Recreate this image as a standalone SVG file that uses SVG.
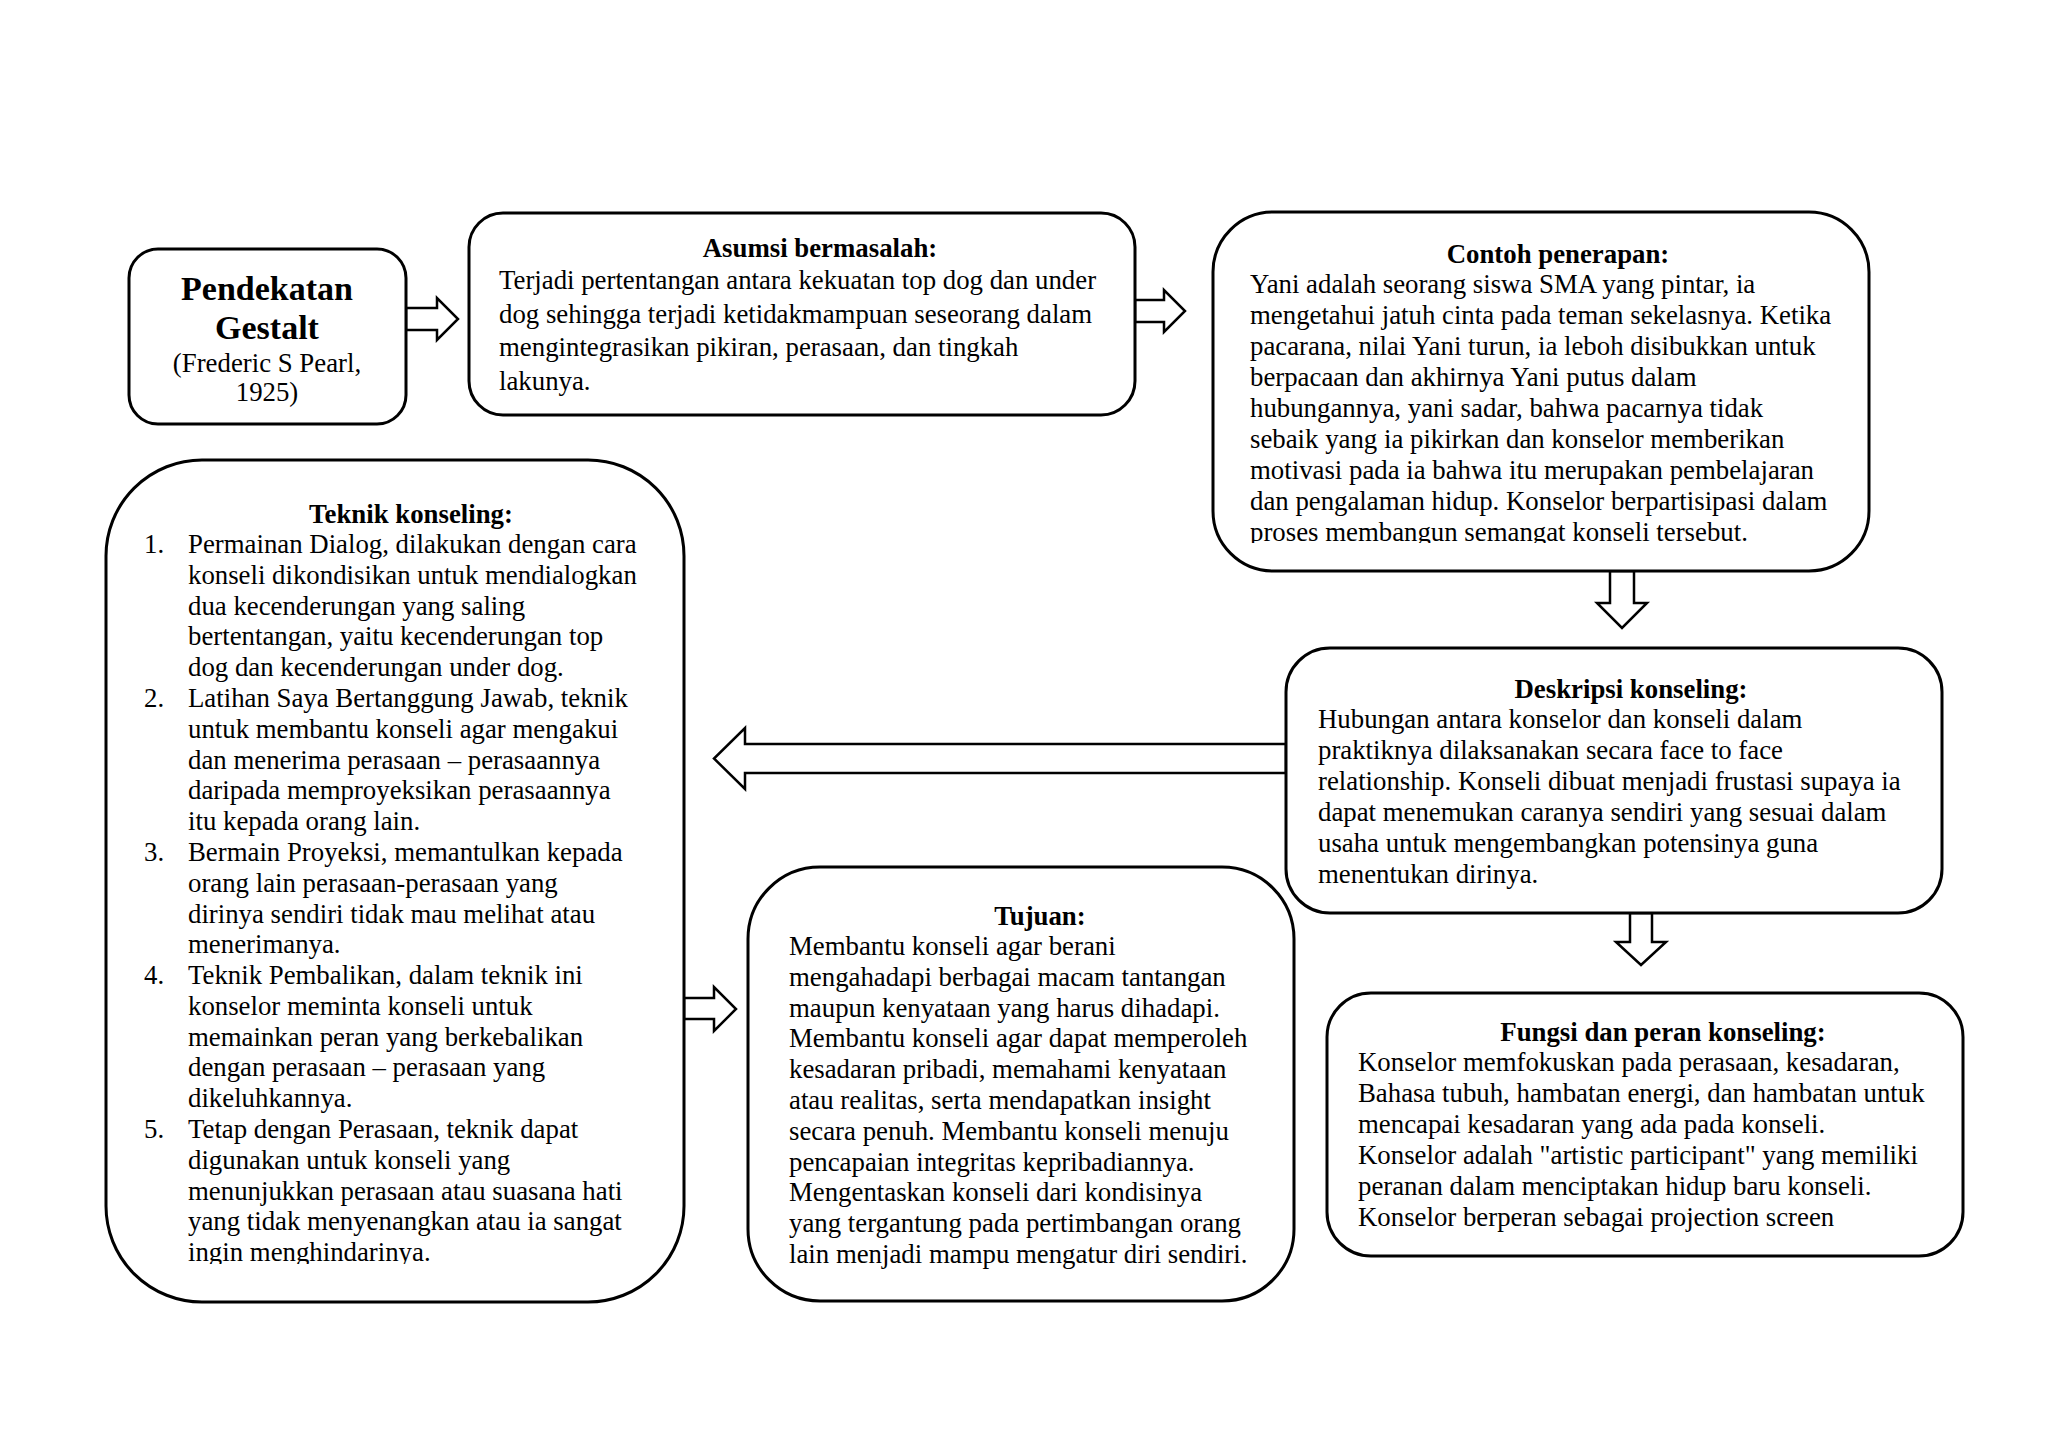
<svg xmlns="http://www.w3.org/2000/svg" width="2048" height="1449" viewBox="0 0 2048 1449">
<style>
.box{fill:#fff;stroke:#000;stroke-width:3}
.arr{fill:#fff;stroke:#000;stroke-width:2.5;stroke-linejoin:miter}
.t{font-family:"Liberation Serif","Times New Roman",serif;font-size:26.8px;fill:#000}
.h{font-weight:bold;text-anchor:middle}
.big{font-size:34px;font-weight:bold;text-anchor:middle}
.c{text-anchor:middle}
</style>
<defs>
<clipPath id="clipContoh"><rect x="1213" y="212" width="656" height="331"/></clipPath>
<clipPath id="clipTeknik"><rect x="106" y="460" width="578" height="804"/></clipPath>
</defs>
<rect width="2048" height="1449" fill="#fff"/>
<g id="connectors">
<path class="arr" d="M406,308 H437 V298 L458,319 L437,340 V330 H406 Z"/>
<path class="arr" d="M1135,300 H1164 V290 L1185,311 L1164,332 V322 H1135 Z"/>
<path class="arr" d="M1610,571 V603 H1597 L1622,628 L1647,603 H1634 V571 Z"/>
<path class="arr" d="M1286,744 H745 V728 L714,758.5 L745,789 V773 H1286 Z"/>
<path class="arr" d="M684,998 H714 V987 L736,1009 L714,1031 V1019 H684 Z"/>
<path class="arr" d="M1630,913 V942 H1616 L1641,965 L1666,942 H1652 V913 Z"/>
</g>
<g id="pendekatan">
<rect class="box" x="129" y="249" width="277" height="175" rx="29"/>
<text class="t big" x="267" y="300">Pendekatan</text>
<text class="t big" x="267" y="339">Gestalt</text>
<text class="t c" x="267" y="372">(Frederic S Pearl,</text>
<text class="t c" x="267" y="401">1925)</text>
</g>
<g id="asumsi">
<rect class="box" x="469" y="213" width="666" height="202" rx="34"/>
<text class="t h" x="820" y="257">Asumsi bermasalah:</text>
<text class="t"><tspan x="499" y="289">Terjadi pertentangan antara kekuatan top dog dan under</tspan><tspan x="499" y="322.5">dog sehingga terjadi ketidakmampuan seseorang dalam</tspan><tspan x="499" y="356">mengintegrasikan pikiran, perasaan, dan tingkah</tspan><tspan x="499" y="389.5">lakunya.</tspan></text>
</g>
<g id="contoh">
<rect class="box" x="1213" y="212" width="656" height="359" rx="60"/>
<text class="t h" x="1558" y="263">Contoh penerapan:</text>
<text class="t" clip-path="url(#clipContoh)"><tspan x="1250" y="293">Yani adalah seorang siswa SMA yang pintar, ia</tspan><tspan x="1250" y="324">mengetahui jatuh cinta pada teman sekelasnya. Ketika</tspan><tspan x="1250" y="355">pacarana, nilai Yani turun, ia leboh disibukkan untuk</tspan><tspan x="1250" y="386">berpacaan dan akhirnya Yani putus dalam</tspan><tspan x="1250" y="417">hubungannya, yani sadar, bahwa pacarnya tidak</tspan><tspan x="1250" y="448">sebaik yang ia pikirkan dan konselor memberikan</tspan><tspan x="1250" y="479">motivasi pada ia bahwa itu merupakan pembelajaran</tspan><tspan x="1250" y="510">dan pengalaman hidup. Konselor berpartisipasi dalam</tspan><tspan x="1250" y="541">proses membangun semangat konseli tersebut.</tspan></text>
</g>
<g id="deskripsi">
<rect class="box" x="1286" y="648" width="656" height="265" rx="44"/>
<text class="t h" x="1631" y="698">Deskripsi konseling:</text>
<text class="t"><tspan x="1318" y="728">Hubungan antara konselor dan konseli dalam</tspan><tspan x="1318" y="759">praktiknya dilaksanakan secara face to face</tspan><tspan x="1318" y="790">relationship. Konseli dibuat menjadi frustasi supaya ia</tspan><tspan x="1318" y="821">dapat menemukan caranya sendiri yang sesuai dalam</tspan><tspan x="1318" y="852">usaha untuk mengembangkan potensinya guna</tspan><tspan x="1318" y="883">menentukan dirinya.</tspan></text>
</g>
<g id="teknik">
<rect class="box" x="106" y="460" width="578" height="842" rx="96"/>
<text class="t h" x="411" y="523">Teknik konseling:</text>
<g clip-path="url(#clipTeknik)">
<text class="t"><tspan x="144" y="553">1.</tspan><tspan x="144" y="707">2.</tspan><tspan x="144" y="861">3.</tspan><tspan x="144" y="984">4.</tspan><tspan x="144" y="1138">5.</tspan></text>
<text class="t"><tspan x="188" y="553">Permainan Dialog, dilakukan dengan cara</tspan><tspan x="188" y="584">konseli dikondisikan untuk mendialogkan</tspan><tspan x="188" y="615">dua kecenderungan yang saling</tspan><tspan x="188" y="645">bertentangan, yaitu kecenderungan top</tspan><tspan x="188" y="676">dog dan kecenderungan under dog.</tspan><tspan x="188" y="707">Latihan Saya Bertanggung Jawab, teknik</tspan><tspan x="188" y="738">untuk membantu konseli agar mengakui</tspan><tspan x="188" y="769">dan menerima perasaan – perasaannya</tspan><tspan x="188" y="799">daripada memproyeksikan perasaannya</tspan><tspan x="188" y="830">itu kepada orang lain.</tspan><tspan x="188" y="861">Bermain Proyeksi, memantulkan kepada</tspan><tspan x="188" y="892">orang lain perasaan-perasaan yang</tspan><tspan x="188" y="923">dirinya sendiri tidak mau melihat atau</tspan><tspan x="188" y="953">menerimanya.</tspan><tspan x="188" y="984">Teknik Pembalikan, dalam teknik ini</tspan><tspan x="188" y="1015">konselor meminta konseli untuk</tspan><tspan x="188" y="1046">memainkan peran yang berkebalikan</tspan><tspan x="188" y="1076">dengan perasaan – perasaan yang</tspan><tspan x="188" y="1107">dikeluhkannya.</tspan><tspan x="188" y="1138">Tetap dengan Perasaan, teknik dapat</tspan><tspan x="188" y="1169">digunakan untuk konseli yang</tspan><tspan x="188" y="1200">menunjukkan perasaan atau suasana hati</tspan><tspan x="188" y="1230">yang tidak menyenangkan atau ia sangat</tspan><tspan x="188" y="1261">ingin menghindarinya.</tspan></text>
</g>
</g>
<g id="tujuan">
<rect class="box" x="748" y="867" width="546" height="434" rx="72"/>
<text class="t h" x="1040" y="925">Tujuan:</text>
<text class="t"><tspan x="789" y="955">Membantu konseli agar berani</tspan><tspan x="789" y="986">mengahadapi berbagai macam tantangan</tspan><tspan x="789" y="1017">maupun kenyataan yang harus dihadapi.</tspan><tspan x="789" y="1047">Membantu konseli agar dapat memperoleh</tspan><tspan x="789" y="1078">kesadaran pribadi, memahami kenyataan</tspan><tspan x="789" y="1109">atau realitas, serta mendapatkan insight</tspan><tspan x="789" y="1140">secara penuh. Membantu konseli menuju</tspan><tspan x="789" y="1171">pencapaian integritas kepribadiannya.</tspan><tspan x="789" y="1201">Mengentaskan konseli dari kondisinya</tspan><tspan x="789" y="1232">yang tergantung pada pertimbangan orang</tspan><tspan x="789" y="1263">lain menjadi mampu mengatur diri sendiri.</tspan></text>
</g>
<g id="fungsi">
<rect class="box" x="1327" y="993" width="636" height="263" rx="44"/>
<text class="t h" x="1663" y="1041">Fungsi dan peran konseling:</text>
<text class="t"><tspan x="1358" y="1071">Konselor memfokuskan pada perasaan, kesadaran,</tspan><tspan x="1358" y="1102">Bahasa tubuh, hambatan energi, dan hambatan untuk</tspan><tspan x="1358" y="1133">mencapai kesadaran yang ada pada konseli.</tspan><tspan x="1358" y="1164">Konselor adalah "artistic participant" yang memiliki</tspan><tspan x="1358" y="1195">peranan dalam menciptakan hidup baru konseli.</tspan><tspan x="1358" y="1226">Konselor berperan sebagai projection screen</tspan></text>
</g>
</svg>
